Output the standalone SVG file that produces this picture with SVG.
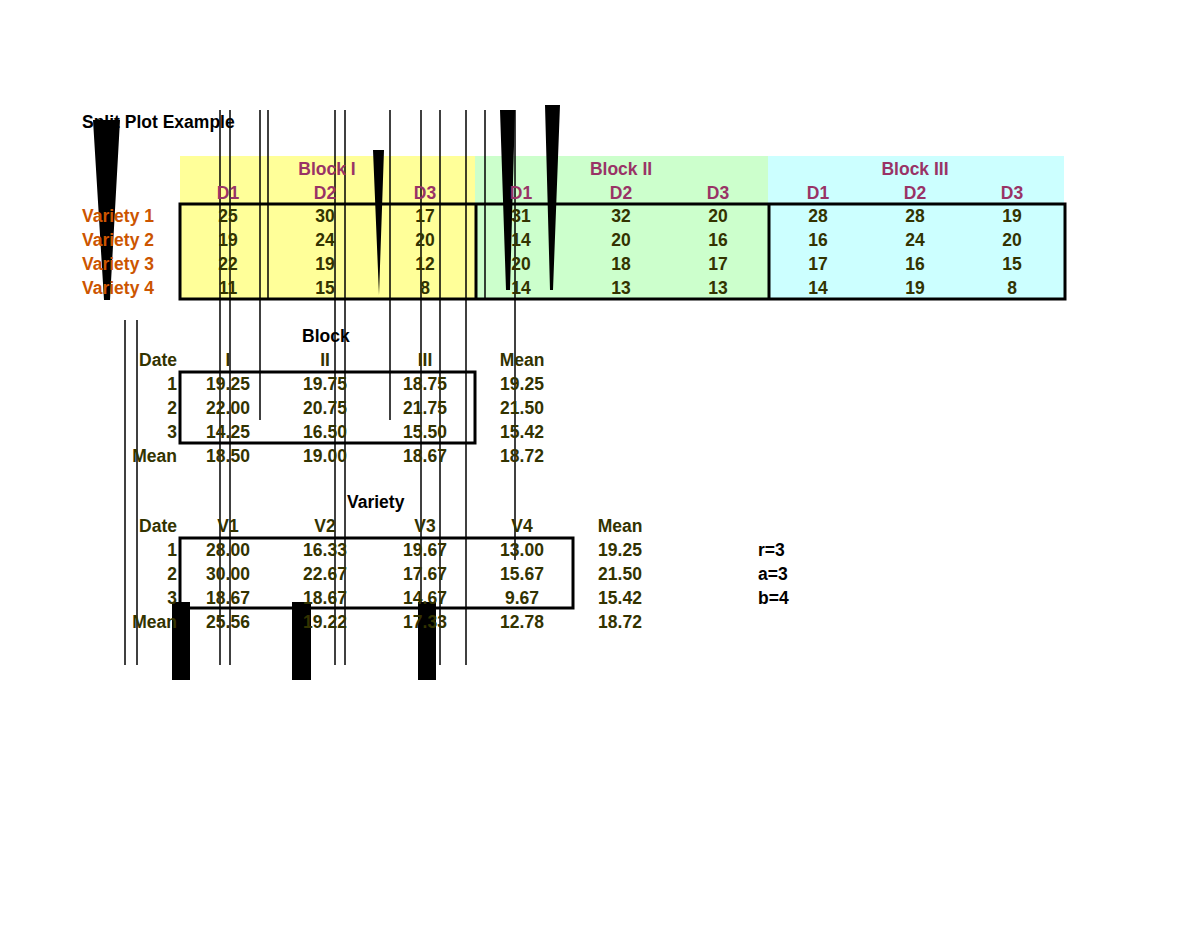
<svg xmlns="http://www.w3.org/2000/svg" width="1200" height="927" viewBox="0 0 1200 927">
<style>
text{font-family:"Liberation Sans",Arial,sans-serif;font-size:17.5px;font-weight:bold}
.v{fill:#cc5500}.b{fill:#993366;text-anchor:middle}.n{fill:#333300;text-anchor:middle}.r{fill:#333300;text-anchor:end}
.k{fill:#000}.f{fill:none;stroke:#000;stroke-width:3}
.a{stroke:#000;stroke-width:1.5}
</style>
<rect width="1200" height="927" fill="#fff"/>
<g id="bands">
<rect x="180" y="156" width="295" height="144" fill="#ffff99"/>
<rect x="475" y="156" width="293" height="144" fill="#ccffcc"/>
<rect x="768" y="156" width="296" height="144" fill="#ccffff"/>
</g>
<g id="artifacts">
<path d="M93 120 L120 120 L110 300 L104 300 Z M500 110 L515 110 L510 290 L506 290 Z M545 105 L560 105 L553 290 L550 290 Z M373 150 L384 150 L379 295 Z" class="k"/>
<rect x="172" y="602" width="18" height="78" class="k"/>
<rect x="292" y="602" width="19" height="78" class="k"/>
<rect x="418" y="602" width="18" height="78" class="k"/>
<g class="a">
<line x1="125" y1="320" x2="125" y2="665"/><line x1="137" y1="320" x2="137" y2="665"/>
<line x1="220" y1="110" x2="220" y2="665"/><line x1="230" y1="110" x2="230" y2="665"/>
<line x1="260" y1="110" x2="260" y2="420"/><line x1="268" y1="110" x2="268" y2="300"/>
<line x1="335" y1="110" x2="335" y2="665"/><line x1="345" y1="110" x2="345" y2="665"/>
<line x1="390" y1="110" x2="390" y2="420"/><line x1="421" y1="110" x2="421" y2="665"/>
<line x1="440" y1="110" x2="440" y2="665"/><line x1="466" y1="110" x2="466" y2="665"/>
<line x1="485" y1="110" x2="485" y2="300"/><line x1="515" y1="110" x2="515" y2="560"/>
</g>
</g>
<g id="title"><text x="82" y="128" class="k">Split Plot Example</text></g>
<g id="table1">
<text x="327" y="175" class="b">Block I</text><text x="621" y="175" class="b">Block II</text><text x="915" y="175" class="b">Block III</text>
<text x="228" y="199" class="b">D1</text><text x="325" y="199" class="b">D2</text><text x="425" y="199" class="b">D3</text>
<text x="521" y="199" class="b">D1</text><text x="621" y="199" class="b">D2</text><text x="718" y="199" class="b">D3</text>
<text x="818" y="199" class="b">D1</text><text x="915" y="199" class="b">D2</text><text x="1012" y="199" class="b">D3</text>
<text x="82" y="222" class="v">Variety 1</text><text x="82" y="246" class="v">Variety 2</text><text x="82" y="270" class="v">Variety 3</text><text x="82" y="294" class="v">Variety 4</text>
<text x="228" y="222" class="n">25</text><text x="325" y="222" class="n">30</text><text x="425" y="222" class="n">17</text><text x="521" y="222" class="n">31</text><text x="621" y="222" class="n">32</text><text x="718" y="222" class="n">20</text><text x="818" y="222" class="n">28</text><text x="915" y="222" class="n">28</text><text x="1012" y="222" class="n">19</text>
<text x="228" y="246" class="n">19</text><text x="325" y="246" class="n">24</text><text x="425" y="246" class="n">20</text><text x="521" y="246" class="n">14</text><text x="621" y="246" class="n">20</text><text x="718" y="246" class="n">16</text><text x="818" y="246" class="n">16</text><text x="915" y="246" class="n">24</text><text x="1012" y="246" class="n">20</text>
<text x="228" y="270" class="n">22</text><text x="325" y="270" class="n">19</text><text x="425" y="270" class="n">12</text><text x="521" y="270" class="n">20</text><text x="621" y="270" class="n">18</text><text x="718" y="270" class="n">17</text><text x="818" y="270" class="n">17</text><text x="915" y="270" class="n">16</text><text x="1012" y="270" class="n">15</text>
<text x="228" y="294" class="n">11</text><text x="325" y="294" class="n">15</text><text x="425" y="294" class="n">8</text><text x="521" y="294" class="n">14</text><text x="621" y="294" class="n">13</text><text x="718" y="294" class="n">13</text><text x="818" y="294" class="n">14</text><text x="915" y="294" class="n">19</text><text x="1012" y="294" class="n">8</text>
<rect x="180" y="204" width="885" height="95" class="f"/>
<line x1="476" y1="204" x2="476" y2="299" class="f"/><line x1="769" y1="204" x2="769" y2="299" class="f"/>
</g>
<g id="table2">
<text x="302" y="342" class="k">Block</text>
<text x="177" y="366" class="r">Date</text><text x="228" y="366" class="n">I</text><text x="325" y="366" class="n">II</text><text x="425" y="366" class="n">III</text><text x="522" y="366" class="n">Mean</text>
<text x="177" y="390" class="r">1</text><text x="228" y="390" class="n">19.25</text><text x="325" y="390" class="n">19.75</text><text x="425" y="390" class="n">18.75</text><text x="522" y="390" class="n">19.25</text>
<text x="177" y="414" class="r">2</text><text x="228" y="414" class="n">22.00</text><text x="325" y="414" class="n">20.75</text><text x="425" y="414" class="n">21.75</text><text x="522" y="414" class="n">21.50</text>
<text x="177" y="438" class="r">3</text><text x="228" y="438" class="n">14.25</text><text x="325" y="438" class="n">16.50</text><text x="425" y="438" class="n">15.50</text><text x="522" y="438" class="n">15.42</text>
<text x="177" y="462" class="r">Mean</text><text x="228" y="462" class="n">18.50</text><text x="325" y="462" class="n">19.00</text><text x="425" y="462" class="n">18.67</text><text x="522" y="462" class="n">18.72</text>
<rect x="180" y="372" width="295" height="71" class="f"/>
</g>
<g id="table3">
<text x="347" y="508" class="k">Variety</text>
<text x="177" y="532" class="r">Date</text><text x="228" y="532" class="n">V1</text><text x="325" y="532" class="n">V2</text><text x="425" y="532" class="n">V3</text><text x="522" y="532" class="n">V4</text><text x="620" y="532" class="n">Mean</text>
<text x="177" y="556" class="r">1</text><text x="228" y="556" class="n">28.00</text><text x="325" y="556" class="n">16.33</text><text x="425" y="556" class="n">19.67</text><text x="522" y="556" class="n">13.00</text><text x="620" y="556" class="n">19.25</text>
<text x="177" y="580" class="r">2</text><text x="228" y="580" class="n">30.00</text><text x="325" y="580" class="n">22.67</text><text x="425" y="580" class="n">17.67</text><text x="522" y="580" class="n">15.67</text><text x="620" y="580" class="n">21.50</text>
<text x="177" y="604" class="r">3</text><text x="228" y="604" class="n">18.67</text><text x="325" y="604" class="n">18.67</text><text x="425" y="604" class="n">14.67</text><text x="522" y="604" class="n">9.67</text><text x="620" y="604" class="n">15.42</text>
<text x="177" y="628" class="r">Mean</text><text x="228" y="628" class="n">25.56</text><text x="325" y="628" class="n">19.22</text><text x="425" y="628" class="n">17.33</text><text x="522" y="628" class="n">12.78</text><text x="620" y="628" class="n">18.72</text>
<rect x="180" y="538" width="393" height="70" class="f"/>
<text x="758" y="556" class="k">r=3</text><text x="758" y="580" class="k">a=3</text><text x="758" y="604" class="k">b=4</text>
</g>
</svg>
